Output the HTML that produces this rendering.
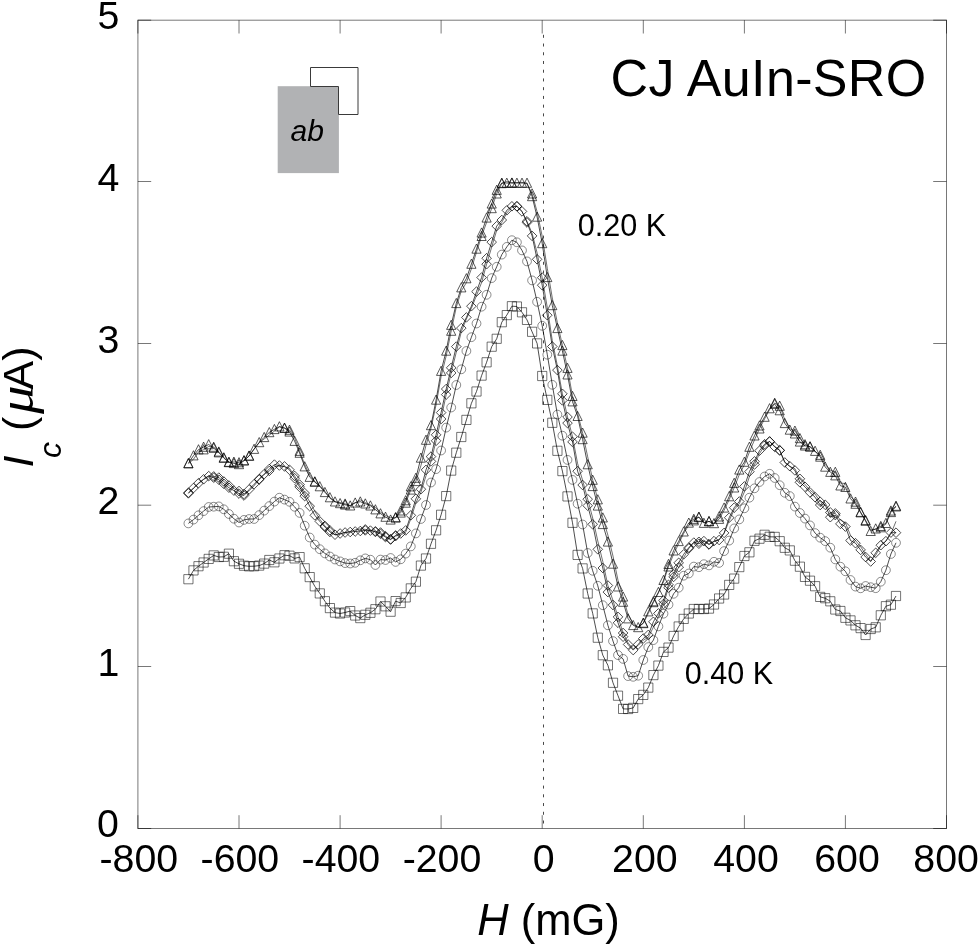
<!DOCTYPE html>
<html lang="en"><head><meta charset="utf-8"><title>CJ AuIn-SRO</title>
<style>
html,body{margin:0;padding:0;background:#fff}
body{width:979px;height:947px;overflow:hidden}
svg{display:block}
text{font-family:"Liberation Sans",sans-serif;fill:#000}
.i{font-style:italic}
</style></head>
<body>
<svg width="979" height="947" viewBox="0 0 979 947">
<rect width="979" height="947" fill="#fff"/>
<g fill="none" stroke="#000" stroke-opacity="0.53" stroke-width="1">
<rect x="137.9" y="20.2" width="808.6" height="808.3"/>
<path d="M137.9 20.2v13.3M137.9 828.5v-13.3M239 20.2v13.3M239 828.5v-13.3M340.1 20.2v13.3M340.1 828.5v-13.3M441.1 20.2v13.3M441.1 828.5v-13.3M542.2 20.2v13.3M542.2 828.5v-13.3M643.3 20.2v13.3M643.3 828.5v-13.3M744.4 20.2v13.3M744.4 828.5v-13.3M845.4 20.2v13.3M845.4 828.5v-13.3M946.5 20.2v13.3M946.5 828.5v-13.3M137.9 828.5h13.3M946.5 828.5h-13.3M137.9 666.5h13.3M946.5 666.5h-13.3M137.9 505.2h13.3M946.5 505.2h-13.3M137.9 343.5h13.3M946.5 343.5h-13.3M137.9 181.5h13.3M946.5 181.5h-13.3M137.9 20.2h13.3M946.5 20.2h-13.3"/>
</g>
<path d="M543.5 34.8V828.5" fill="none" stroke="#333" stroke-width="0.9" stroke-dasharray="3 5.73"/>
<g font-size="39.3" text-anchor="middle">
<text x="138.8" y="872">-800</text>
<text x="239.9" y="872">-600</text>
<text x="340.9" y="872">-400</text>
<text x="442" y="872">-200</text>
<text x="543.8" y="872">0</text>
<text x="644.9" y="872">200</text>
<text x="746" y="872">400</text>
<text x="847" y="872">600</text>
<text x="946.1" y="872">800</text>
</g>
<g font-size="39.3" text-anchor="end">
<text x="118.9" y="836.7">0</text>
<text x="119.4" y="675.5">1</text>
<text x="119.4" y="514.2">2</text>
<text x="119.4" y="352.5">3</text>
<text x="119.4" y="190.5">4</text>
<text x="119.4" y="29.2">5</text>
</g>
<text x="477.2" y="935" font-size="43.5"><tspan class="i">H</tspan> (mG)</text>
<g transform="translate(33 467.5) rotate(-90)" font-size="43"><text x="0" y="0" class="i">I</text><text x="9.5" y="27.5" font-size="32" class="i">c</text><text x="36.5" y="0">(</text><text transform="translate(53.5 0) scale(1.14 1)" class="i" font-size="50" style="font-family:'Liberation Serif',serif">μ</text><text x="78" y="0">A</text><text x="106.8" y="0">)</text></g>
<text x="610.6" y="96.2" font-size="52" letter-spacing="0.35">CJ AuIn-SRO</text>
<text x="577.8" y="236" font-size="30.6">0.20 K</text>
<text x="684.8" y="684" font-size="30.6">0.40 K</text>
<rect x="277.7" y="86.2" width="61.2" height="86.9" fill="#b1b2b4"/>
<path d="M310.5 86.5V67.5H358V114.5H338.5V86.5Z" fill="#fff" stroke="#3a3a3a" stroke-width="1"/>
<text x="290.5" y="141" font-size="30" class="i">ab</text>
<g fill="none" stroke="#000" stroke-width="0.55">
<polyline fill="none" stroke="#000" stroke-width="0.7" stroke-linejoin="round" points="188.4,579.2 193.5,570.4 198.5,566.2 203.6,562.5 208.7,558.9 213.7,555.4 218.8,557 223.8,556.8 228.9,553.7 233.9,561.2 239,563.8 244,565.7 249.1,566.3 254.1,566.2 259.2,565.6 264.2,563.6 269.3,560 274.4,562.3 279.4,558.5 284.5,555.2 289.5,555.7 294.6,558.4 299.6,557.1 304.7,568.3 309.7,577.1 314.8,586.3 319.8,593.4 324.9,601.2 329.9,608.1 335,612.6 340.1,613.5 345.1,612.5 350.2,611.1 355.2,615.5 360.3,618.1 365.3,614.8 370.4,612.8 375.4,609.2 380.5,601.5 385.5,606.3 390.6,611.7 395.6,601.1 400.7,603 405.7,597.4 410.8,588.4 415.9,581.7 420.9,565.6 426,558.5 431,543.8 436.1,530.3 441.1,514.8 446.2,496.1 451.2,470.6 456.3,452.7 461.3,437 466.4,419.9 471.4,403.3 476.5,391.5 481.6,375.6 486.6,362.3 491.7,346.7 496.7,338.8 501.8,322.2 506.8,315.1 511.9,306.2 516.9,306.5 522,312.3 527,319.9 532.1,331.8 537.1,343.4 542.2,376 547.3,399.9 552.3,422.8 557.4,450.8 562.4,471.1 567.5,496.4 572.5,522.8 577.6,554.9 582.6,568.4 587.7,593.5 592.7,613.4 597.8,637.7 602.8,655.2 607.9,665.3 613,682.8 618,695.7 623.1,708.9 628.1,709 633.2,707.9 638.2,699.1 643.3,694.9 648.3,687.6 653.4,675.1 658.4,665.6 663.5,651.9 668.5,647.6 673.6,636 678.7,626.5 683.7,618.9 688.8,613.5 693.8,609 698.9,609 703.9,609 709,608.6 714,604.5 719.1,598.5 724.1,594.5 729.2,584.9 734.2,578.6 739.3,567.1 744.4,556 749.4,552.3 754.5,540.8 759.5,538.7 764.6,534.8 769.6,536.8 774.7,536.9 779.7,541.2 784.8,547.8 789.8,550.4 794.9,560.7 799.9,566.7 805,576.9 810,580.7 815.1,586.2 820.2,596.9 825.2,598.2 830.3,601.3 835.3,609.5 840.4,611 845.4,617.8 850.5,620.4 855.5,625.3 860.6,628.1 865.6,635 870.7,629 875.7,627.3 880.8,615.3 885.9,606.2 890.9,604.7 896,596"/>
<path d="M183.8 574.6h9.2v9.2h-9.2zM188.9 565.8h9.2v9.2h-9.2zM193.9 561.6h9.2v9.2h-9.2zM199 557.9h9.2v9.2h-9.2zM204.1 554.3h9.2v9.2h-9.2zM209.1 550.8h9.2v9.2h-9.2zM214.2 552.4h9.2v9.2h-9.2zM219.2 552.2h9.2v9.2h-9.2zM224.3 549.1h9.2v9.2h-9.2zM229.3 556.6h9.2v9.2h-9.2zM234.4 559.2h9.2v9.2h-9.2zM239.4 561.1h9.2v9.2h-9.2zM244.5 561.7h9.2v9.2h-9.2zM249.5 561.6h9.2v9.2h-9.2zM254.6 561h9.2v9.2h-9.2zM259.6 559h9.2v9.2h-9.2zM264.7 555.4h9.2v9.2h-9.2zM269.8 557.7h9.2v9.2h-9.2zM274.8 553.9h9.2v9.2h-9.2zM279.9 550.6h9.2v9.2h-9.2zM284.9 551.1h9.2v9.2h-9.2zM290 553.8h9.2v9.2h-9.2zM295 552.5h9.2v9.2h-9.2zM300.1 563.7h9.2v9.2h-9.2zM305.1 572.5h9.2v9.2h-9.2zM310.2 581.7h9.2v9.2h-9.2zM315.2 588.8h9.2v9.2h-9.2zM320.3 596.6h9.2v9.2h-9.2zM325.3 603.5h9.2v9.2h-9.2zM330.4 608h9.2v9.2h-9.2zM335.4 608.9h9.2v9.2h-9.2zM340.5 607.9h9.2v9.2h-9.2zM345.6 606.5h9.2v9.2h-9.2zM350.6 610.9h9.2v9.2h-9.2zM355.7 613.5h9.2v9.2h-9.2zM360.7 610.2h9.2v9.2h-9.2zM365.8 608.2h9.2v9.2h-9.2zM370.8 604.6h9.2v9.2h-9.2zM375.9 596.9h9.2v9.2h-9.2zM380.9 601.7h9.2v9.2h-9.2zM386 607.1h9.2v9.2h-9.2zM391 596.5h9.2v9.2h-9.2zM396.1 598.4h9.2v9.2h-9.2zM401.1 592.8h9.2v9.2h-9.2zM406.2 583.8h9.2v9.2h-9.2zM411.3 577.1h9.2v9.2h-9.2zM416.3 561h9.2v9.2h-9.2zM421.4 553.9h9.2v9.2h-9.2zM426.4 539.2h9.2v9.2h-9.2zM431.5 525.7h9.2v9.2h-9.2zM436.5 510.2h9.2v9.2h-9.2zM441.6 491.5h9.2v9.2h-9.2zM446.6 466h9.2v9.2h-9.2zM451.7 448.1h9.2v9.2h-9.2zM456.7 432.4h9.2v9.2h-9.2zM461.8 415.3h9.2v9.2h-9.2zM466.8 398.7h9.2v9.2h-9.2zM471.9 386.9h9.2v9.2h-9.2zM477 371h9.2v9.2h-9.2zM482 357.7h9.2v9.2h-9.2zM487.1 342.1h9.2v9.2h-9.2zM492.1 334.2h9.2v9.2h-9.2zM497.2 317.6h9.2v9.2h-9.2zM502.2 310.5h9.2v9.2h-9.2zM507.3 301.6h9.2v9.2h-9.2zM512.3 301.9h9.2v9.2h-9.2zM517.4 307.7h9.2v9.2h-9.2zM522.4 315.3h9.2v9.2h-9.2zM527.5 327.2h9.2v9.2h-9.2zM532.5 338.8h9.2v9.2h-9.2zM537.6 371.4h9.2v9.2h-9.2zM542.7 395.3h9.2v9.2h-9.2zM547.7 418.2h9.2v9.2h-9.2zM552.8 446.2h9.2v9.2h-9.2zM557.8 466.5h9.2v9.2h-9.2zM562.9 491.8h9.2v9.2h-9.2zM567.9 518.2h9.2v9.2h-9.2zM573 550.3h9.2v9.2h-9.2zM578 563.8h9.2v9.2h-9.2zM583.1 588.9h9.2v9.2h-9.2zM588.1 608.8h9.2v9.2h-9.2zM593.2 633.1h9.2v9.2h-9.2zM598.2 650.6h9.2v9.2h-9.2zM603.3 660.7h9.2v9.2h-9.2zM608.4 678.2h9.2v9.2h-9.2zM613.4 691.1h9.2v9.2h-9.2zM618.5 704.3h9.2v9.2h-9.2zM623.5 704.4h9.2v9.2h-9.2zM628.6 703.3h9.2v9.2h-9.2zM633.6 694.5h9.2v9.2h-9.2zM638.7 690.3h9.2v9.2h-9.2zM643.7 683h9.2v9.2h-9.2zM648.8 670.5h9.2v9.2h-9.2zM653.8 661h9.2v9.2h-9.2zM658.9 647.3h9.2v9.2h-9.2zM663.9 643h9.2v9.2h-9.2zM669 631.4h9.2v9.2h-9.2zM674.1 621.9h9.2v9.2h-9.2zM679.1 614.3h9.2v9.2h-9.2zM684.2 608.9h9.2v9.2h-9.2zM689.2 604.4h9.2v9.2h-9.2zM694.3 604.4h9.2v9.2h-9.2zM699.3 604.4h9.2v9.2h-9.2zM704.4 604h9.2v9.2h-9.2zM709.4 599.9h9.2v9.2h-9.2zM714.5 593.9h9.2v9.2h-9.2zM719.5 589.9h9.2v9.2h-9.2zM724.6 580.3h9.2v9.2h-9.2zM729.6 574h9.2v9.2h-9.2zM734.7 562.5h9.2v9.2h-9.2zM739.8 551.4h9.2v9.2h-9.2zM744.8 547.7h9.2v9.2h-9.2zM749.9 536.2h9.2v9.2h-9.2zM754.9 534.1h9.2v9.2h-9.2zM760 530.2h9.2v9.2h-9.2zM765 532.2h9.2v9.2h-9.2zM770.1 532.3h9.2v9.2h-9.2zM775.1 536.6h9.2v9.2h-9.2zM780.2 543.2h9.2v9.2h-9.2zM785.2 545.8h9.2v9.2h-9.2zM790.3 556.1h9.2v9.2h-9.2zM795.3 562.1h9.2v9.2h-9.2zM800.4 572.3h9.2v9.2h-9.2zM805.4 576.1h9.2v9.2h-9.2zM810.5 581.6h9.2v9.2h-9.2zM815.6 592.3h9.2v9.2h-9.2zM820.6 593.6h9.2v9.2h-9.2zM825.7 596.7h9.2v9.2h-9.2zM830.7 604.9h9.2v9.2h-9.2zM835.8 606.4h9.2v9.2h-9.2zM840.8 613.2h9.2v9.2h-9.2zM845.9 615.8h9.2v9.2h-9.2zM850.9 620.7h9.2v9.2h-9.2zM856 623.5h9.2v9.2h-9.2zM861 630.4h9.2v9.2h-9.2zM866.1 624.4h9.2v9.2h-9.2zM871.1 622.7h9.2v9.2h-9.2zM876.2 610.7h9.2v9.2h-9.2zM881.3 601.6h9.2v9.2h-9.2zM886.3 600.1h9.2v9.2h-9.2zM891.4 591.4h9.2v9.2h-9.2z"/>
</g>
<g fill="none" stroke="#000" stroke-width="0.45">
<polyline fill="none" stroke="#000" stroke-width="0.7" stroke-linejoin="round" points="188.4,523.4 193.5,519.6 198.5,515.3 203.6,511.1 208.7,507 213.7,506.7 218.8,506.4 223.8,509.3 228.9,514 233.9,518.7 239,522.5 244,519.9 249.1,519 254.1,519 259.2,515.1 264.2,510.6 269.3,506.1 274.4,501.6 279.4,497.7 284.5,499.6 289.5,501.8 294.6,506.8 299.6,512.9 304.7,525.7 309.7,537.5 314.8,544.6 319.8,549.2 324.9,553.4 329.9,556.5 335,559.5 340.1,561.4 345.1,563.1 350.2,563.5 355.2,562.8 360.3,560.3 365.3,558.4 370.4,559.7 375.4,565 380.5,559.6 385.5,560 390.6,558 395.6,561.9 400.7,559.3 405.7,553.6 410.8,546.4 415.9,533.4 420.9,519 426,505 431,482.5 436.1,469.1 441.1,450.5 446.2,427.6 451.2,407.5 456.3,385 461.3,369.3 466.4,351 471.4,337.2 476.5,323.5 481.6,306.7 486.6,294.8 491.7,278.1 496.7,266.8 501.8,254.6 506.8,246.9 511.9,240.2 516.9,242.3 522,250.4 527,261.4 532.1,280.4 537.1,301.8 542.2,325.8 547.3,354.7 552.3,384.8 557.4,414.6 562.4,435.7 567.5,459.9 572.5,479.9 577.6,503.7 582.6,524.5 587.7,553 592.7,570.8 597.8,585.8 602.8,605.2 607.9,625.3 613,641.1 618,655.1 623.1,658.9 628.1,676.1 633.2,676.8 638.2,675.7 643.3,660 648.3,647.1 653.4,640.1 658.4,626.4 663.5,613.7 668.5,604.6 673.6,593.8 678.7,587.7 683.7,575.7 688.8,573.5 693.8,566.6 698.9,567.2 703.9,564.2 709,565.4 714,561.8 719.1,562.9 724.1,551.1 729.2,540.6 734.2,528.4 739.3,519.4 744.4,508.3 749.4,497.7 754.5,488.3 759.5,482 764.6,476.5 769.6,473.8 774.7,478 779.7,485.2 784.8,492.8 789.8,496.1 794.9,506.6 799.9,513 805,518.6 810,525.4 815.1,533.1 820.2,537.7 825.2,541.1 830.3,547.7 835.3,559.4 840.4,566.7 845.4,571.3 850.5,580 855.5,586.6 860.6,588.3 865.6,586 870.7,587.2 875.7,588.2 880.8,581.7 885.9,570.2 890.9,554 896,542.8"/>
<circle cx="188.4" cy="523.4" r="4.4"/>
<circle cx="193.5" cy="519.6" r="4.4"/>
<circle cx="198.5" cy="515.3" r="4.4"/>
<circle cx="203.6" cy="511.1" r="4.4"/>
<circle cx="208.7" cy="507" r="4.4"/>
<circle cx="213.7" cy="506.7" r="4.4"/>
<circle cx="218.8" cy="506.4" r="4.4"/>
<circle cx="223.8" cy="509.3" r="4.4"/>
<circle cx="228.9" cy="514" r="4.4"/>
<circle cx="233.9" cy="518.7" r="4.4"/>
<circle cx="239" cy="522.5" r="4.4"/>
<circle cx="244" cy="519.9" r="4.4"/>
<circle cx="249.1" cy="519" r="4.4"/>
<circle cx="254.1" cy="519" r="4.4"/>
<circle cx="259.2" cy="515.1" r="4.4"/>
<circle cx="264.2" cy="510.6" r="4.4"/>
<circle cx="269.3" cy="506.1" r="4.4"/>
<circle cx="274.4" cy="501.6" r="4.4"/>
<circle cx="279.4" cy="497.7" r="4.4"/>
<circle cx="284.5" cy="499.6" r="4.4"/>
<circle cx="289.5" cy="501.8" r="4.4"/>
<circle cx="294.6" cy="506.8" r="4.4"/>
<circle cx="299.6" cy="512.9" r="4.4"/>
<circle cx="304.7" cy="525.7" r="4.4"/>
<circle cx="309.7" cy="537.5" r="4.4"/>
<circle cx="314.8" cy="544.6" r="4.4"/>
<circle cx="319.8" cy="549.2" r="4.4"/>
<circle cx="324.9" cy="553.4" r="4.4"/>
<circle cx="329.9" cy="556.5" r="4.4"/>
<circle cx="335" cy="559.5" r="4.4"/>
<circle cx="340.1" cy="561.4" r="4.4"/>
<circle cx="345.1" cy="563.1" r="4.4"/>
<circle cx="350.2" cy="563.5" r="4.4"/>
<circle cx="355.2" cy="562.8" r="4.4"/>
<circle cx="360.3" cy="560.3" r="4.4"/>
<circle cx="365.3" cy="558.4" r="4.4"/>
<circle cx="370.4" cy="559.7" r="4.4"/>
<circle cx="375.4" cy="565" r="4.4"/>
<circle cx="380.5" cy="559.6" r="4.4"/>
<circle cx="385.5" cy="560" r="4.4"/>
<circle cx="390.6" cy="558" r="4.4"/>
<circle cx="395.6" cy="561.9" r="4.4"/>
<circle cx="400.7" cy="559.3" r="4.4"/>
<circle cx="405.7" cy="553.6" r="4.4"/>
<circle cx="410.8" cy="546.4" r="4.4"/>
<circle cx="415.9" cy="533.4" r="4.4"/>
<circle cx="420.9" cy="519" r="4.4"/>
<circle cx="426" cy="505" r="4.4"/>
<circle cx="431" cy="482.5" r="4.4"/>
<circle cx="436.1" cy="469.1" r="4.4"/>
<circle cx="441.1" cy="450.5" r="4.4"/>
<circle cx="446.2" cy="427.6" r="4.4"/>
<circle cx="451.2" cy="407.5" r="4.4"/>
<circle cx="456.3" cy="385" r="4.4"/>
<circle cx="461.3" cy="369.3" r="4.4"/>
<circle cx="466.4" cy="351" r="4.4"/>
<circle cx="471.4" cy="337.2" r="4.4"/>
<circle cx="476.5" cy="323.5" r="4.4"/>
<circle cx="481.6" cy="306.7" r="4.4"/>
<circle cx="486.6" cy="294.8" r="4.4"/>
<circle cx="491.7" cy="278.1" r="4.4"/>
<circle cx="496.7" cy="266.8" r="4.4"/>
<circle cx="501.8" cy="254.6" r="4.4"/>
<circle cx="506.8" cy="246.9" r="4.4"/>
<circle cx="511.9" cy="240.2" r="4.4"/>
<circle cx="516.9" cy="242.3" r="4.4"/>
<circle cx="522" cy="250.4" r="4.4"/>
<circle cx="527" cy="261.4" r="4.4"/>
<circle cx="532.1" cy="280.4" r="4.4"/>
<circle cx="537.1" cy="301.8" r="4.4"/>
<circle cx="542.2" cy="325.8" r="4.4"/>
<circle cx="547.3" cy="354.7" r="4.4"/>
<circle cx="552.3" cy="384.8" r="4.4"/>
<circle cx="557.4" cy="414.6" r="4.4"/>
<circle cx="562.4" cy="435.7" r="4.4"/>
<circle cx="567.5" cy="459.9" r="4.4"/>
<circle cx="572.5" cy="479.9" r="4.4"/>
<circle cx="577.6" cy="503.7" r="4.4"/>
<circle cx="582.6" cy="524.5" r="4.4"/>
<circle cx="587.7" cy="553" r="4.4"/>
<circle cx="592.7" cy="570.8" r="4.4"/>
<circle cx="597.8" cy="585.8" r="4.4"/>
<circle cx="602.8" cy="605.2" r="4.4"/>
<circle cx="607.9" cy="625.3" r="4.4"/>
<circle cx="613" cy="641.1" r="4.4"/>
<circle cx="618" cy="655.1" r="4.4"/>
<circle cx="623.1" cy="658.9" r="4.4"/>
<circle cx="628.1" cy="676.1" r="4.4"/>
<circle cx="633.2" cy="676.8" r="4.4"/>
<circle cx="638.2" cy="675.7" r="4.4"/>
<circle cx="643.3" cy="660" r="4.4"/>
<circle cx="648.3" cy="647.1" r="4.4"/>
<circle cx="653.4" cy="640.1" r="4.4"/>
<circle cx="658.4" cy="626.4" r="4.4"/>
<circle cx="663.5" cy="613.7" r="4.4"/>
<circle cx="668.5" cy="604.6" r="4.4"/>
<circle cx="673.6" cy="593.8" r="4.4"/>
<circle cx="678.7" cy="587.7" r="4.4"/>
<circle cx="683.7" cy="575.7" r="4.4"/>
<circle cx="688.8" cy="573.5" r="4.4"/>
<circle cx="693.8" cy="566.6" r="4.4"/>
<circle cx="698.9" cy="567.2" r="4.4"/>
<circle cx="703.9" cy="564.2" r="4.4"/>
<circle cx="709" cy="565.4" r="4.4"/>
<circle cx="714" cy="561.8" r="4.4"/>
<circle cx="719.1" cy="562.9" r="4.4"/>
<circle cx="724.1" cy="551.1" r="4.4"/>
<circle cx="729.2" cy="540.6" r="4.4"/>
<circle cx="734.2" cy="528.4" r="4.4"/>
<circle cx="739.3" cy="519.4" r="4.4"/>
<circle cx="744.4" cy="508.3" r="4.4"/>
<circle cx="749.4" cy="497.7" r="4.4"/>
<circle cx="754.5" cy="488.3" r="4.4"/>
<circle cx="759.5" cy="482" r="4.4"/>
<circle cx="764.6" cy="476.5" r="4.4"/>
<circle cx="769.6" cy="473.8" r="4.4"/>
<circle cx="774.7" cy="478" r="4.4"/>
<circle cx="779.7" cy="485.2" r="4.4"/>
<circle cx="784.8" cy="492.8" r="4.4"/>
<circle cx="789.8" cy="496.1" r="4.4"/>
<circle cx="794.9" cy="506.6" r="4.4"/>
<circle cx="799.9" cy="513" r="4.4"/>
<circle cx="805" cy="518.6" r="4.4"/>
<circle cx="810" cy="525.4" r="4.4"/>
<circle cx="815.1" cy="533.1" r="4.4"/>
<circle cx="820.2" cy="537.7" r="4.4"/>
<circle cx="825.2" cy="541.1" r="4.4"/>
<circle cx="830.3" cy="547.7" r="4.4"/>
<circle cx="835.3" cy="559.4" r="4.4"/>
<circle cx="840.4" cy="566.7" r="4.4"/>
<circle cx="845.4" cy="571.3" r="4.4"/>
<circle cx="850.5" cy="580" r="4.4"/>
<circle cx="855.5" cy="586.6" r="4.4"/>
<circle cx="860.6" cy="588.3" r="4.4"/>
<circle cx="865.6" cy="586" r="4.4"/>
<circle cx="870.7" cy="587.2" r="4.4"/>
<circle cx="875.7" cy="588.2" r="4.4"/>
<circle cx="880.8" cy="581.7" r="4.4"/>
<circle cx="885.9" cy="570.2" r="4.4"/>
<circle cx="890.9" cy="554" r="4.4"/>
<circle cx="896" cy="542.8" r="4.4"/>
</g>
<g fill="none" stroke="#000" stroke-width="0.7">
<polyline fill="none" stroke="#000" stroke-width="0.7" stroke-linejoin="round" points="188.4,493.4 193.5,488 198.5,483.2 203.6,479.3 208.7,476.1 213.7,477.7 218.8,479.7 223.8,483.8 228.9,487.7 233.9,490.6 239,493.6 244,495.5 249.1,489.5 254.1,484.2 259.2,479.1 264.2,474.1 269.3,469 274.4,464.6 279.4,465.5 284.5,466.4 289.5,469.8 294.6,478.2 299.6,486.9 304.7,496.1 309.7,506.2 314.8,515.3 319.8,521.4 324.9,527 329.9,532 335,534.7 340.1,533.5 345.1,532.5 350.2,532 355.2,531.5 360.3,531 365.3,530.4 370.4,530.6 375.4,531.9 380.5,533.8 385.5,537.1 390.6,539.6 395.6,535.4 400.7,533.5 405.7,530.4 410.8,515.3 415.9,498.8 420.9,489.2 426,469.9 431,456.6 436.1,434.8 441.1,412.6 446.2,389 451.2,367.8 456.3,346.6 461.3,328.1 466.4,317.4 471.4,306.2 476.5,291.6 481.6,277.5 486.6,258.2 491.7,242.1 496.7,226.1 501.8,220 506.8,210.3 511.9,206.3 516.9,206.3 522,211.4 527,222.5 532.1,235.9 537.1,259.3 542.2,285.2 547.3,315.2 552.3,346.5 557.4,370.1 562.4,400.4 567.5,423.1 572.5,441.9 577.6,471.2 582.6,485 587.7,505.7 592.7,524.3 597.8,549.3 602.8,568 607.9,592.1 613,605 618,622.8 623.1,636.7 628.1,644.5 633.2,650.1 638.2,644.4 643.3,638.5 648.3,634.9 653.4,621.8 658.4,613.4 663.5,600.5 668.5,584.8 673.6,574.1 678.7,562.8 683.7,554.3 688.8,547.6 693.8,542.6 698.9,543.7 703.9,541.1 709,544.6 714,541.1 719.1,540 724.1,532.9 729.2,517.7 734.2,507.7 739.3,501.5 744.4,486.4 749.4,471.7 754.5,461.4 759.5,450.7 764.6,444.2 769.6,441.4 774.7,446.9 779.7,450.3 784.8,462.5 789.8,466.2 794.9,470.4 799.9,482.3 805,486.8 810,492.4 815.1,497.2 820.2,505 825.2,504.8 830.3,517.2 835.3,515.1 840.4,523.9 845.4,526.6 850.5,540.5 855.5,543.2 860.6,549.9 865.6,557 870.7,561.5 875.7,552.8 880.8,545.2 885.9,541.2 890.9,532.6 896,532.7"/>
<polyline fill="none" stroke="#000" stroke-width="0.5599999999999999" stroke-linejoin="round" points="188.4,492.7 193.5,488.4 198.5,483.6 203.6,479.4 208.7,475.7 213.7,476.4 218.8,477.6 223.8,481.5 228.9,485.5 233.9,488.5 239,491 244,494 249.1,490.8 254.1,485.7 259.2,479.5 264.2,474.3 269.3,470.9 274.4,466.7 279.4,466 284.5,466.7 289.5,468.3 294.6,475.9 299.6,484.6 304.7,493.1 309.7,501.8 314.8,511.2 319.8,519.3 324.9,525.9 329.9,530.4 335,535 340.1,534.1 345.1,532.5 350.2,531.5 355.2,529.9 360.3,528.9 365.3,529.4 370.4,530.2 375.4,531.3 380.5,532.5 385.5,536.2 390.6,539.2 395.6,536.1 400.7,534.8 405.7,532.2 410.8,518.9 415.9,502.9 420.9,492.3 426,475.8 431,461.4 436.1,440.8 441.1,419 446.2,394.6 451.2,372.9 456.3,352.1 461.3,331.7 466.4,319 471.4,308.3 476.5,295.5 481.6,282.5 486.6,264.2 491.7,247.1 496.7,230.3 501.8,222.3 506.8,213 511.9,207.3 516.9,206.3 522,211.6 527,221.3 532.1,233.2 537.1,252.9 542.2,277.7 547.3,307.6 552.3,340.6 557.4,366 562.4,393.8 567.5,417 572.5,436.7 577.6,463.5 582.6,480.3 587.7,499.2 592.7,518 597.8,541 602.8,561.6 607.9,585.5 613,600.6 618,616.9 623.1,633 628.1,642.9 633.2,649 638.2,645.4 643.3,640.1 648.3,637.4 653.4,627.1 658.4,616.8 663.5,604 668.5,587.6 673.6,576.9 678.7,567.2 683.7,557.6 688.8,548.5 693.8,542.1 698.9,541.8 703.9,540 709,544.1 714,541.7 719.1,539.5 724.1,533.5 729.2,520.6 734.2,509.7 739.3,503.7 744.4,491.9 749.4,476.6 754.5,464.5 759.5,453.6 764.6,445.5 769.6,441.6 774.7,446.3 779.7,450.4 784.8,461.9 789.8,466.5 794.9,468.6 799.9,478.8 805,484.5 810,490.3 815.1,494.1 820.2,501.8 825.2,503 830.3,512.4 835.3,513.4 840.4,520.1 845.4,522.7 850.5,535.4 855.5,540.6 860.6,546.6 865.6,554.3 870.7,561.2 875.7,555.3 880.8,545.9 885.9,541 890.9,533.8 896,521.3"/>
<path d="M188.4 488.6l4.8 4.8l-4.8 4.8l-4.8 -4.8zM193.5 483.2l4.8 4.8l-4.8 4.8l-4.8 -4.8zM198.5 478.4l4.8 4.8l-4.8 4.8l-4.8 -4.8zM203.6 474.5l4.8 4.8l-4.8 4.8l-4.8 -4.8zM208.7 471.3l4.8 4.8l-4.8 4.8l-4.8 -4.8zM213.7 472.9l4.8 4.8l-4.8 4.8l-4.8 -4.8zM218.8 474.9l4.8 4.8l-4.8 4.8l-4.8 -4.8zM223.8 479l4.8 4.8l-4.8 4.8l-4.8 -4.8zM228.9 482.9l4.8 4.8l-4.8 4.8l-4.8 -4.8zM233.9 485.8l4.8 4.8l-4.8 4.8l-4.8 -4.8zM239 488.8l4.8 4.8l-4.8 4.8l-4.8 -4.8zM244 490.7l4.8 4.8l-4.8 4.8l-4.8 -4.8zM249.1 484.7l4.8 4.8l-4.8 4.8l-4.8 -4.8zM254.1 479.4l4.8 4.8l-4.8 4.8l-4.8 -4.8zM259.2 474.3l4.8 4.8l-4.8 4.8l-4.8 -4.8zM264.2 469.3l4.8 4.8l-4.8 4.8l-4.8 -4.8zM269.3 464.2l4.8 4.8l-4.8 4.8l-4.8 -4.8zM274.4 459.8l4.8 4.8l-4.8 4.8l-4.8 -4.8zM279.4 460.7l4.8 4.8l-4.8 4.8l-4.8 -4.8zM284.5 461.6l4.8 4.8l-4.8 4.8l-4.8 -4.8zM289.5 465l4.8 4.8l-4.8 4.8l-4.8 -4.8zM294.6 473.4l4.8 4.8l-4.8 4.8l-4.8 -4.8zM299.6 482.1l4.8 4.8l-4.8 4.8l-4.8 -4.8zM304.7 491.3l4.8 4.8l-4.8 4.8l-4.8 -4.8zM309.7 501.4l4.8 4.8l-4.8 4.8l-4.8 -4.8zM314.8 510.5l4.8 4.8l-4.8 4.8l-4.8 -4.8zM319.8 516.6l4.8 4.8l-4.8 4.8l-4.8 -4.8zM324.9 522.2l4.8 4.8l-4.8 4.8l-4.8 -4.8zM329.9 527.2l4.8 4.8l-4.8 4.8l-4.8 -4.8zM335 529.9l4.8 4.8l-4.8 4.8l-4.8 -4.8zM340.1 528.7l4.8 4.8l-4.8 4.8l-4.8 -4.8zM345.1 527.7l4.8 4.8l-4.8 4.8l-4.8 -4.8zM350.2 527.2l4.8 4.8l-4.8 4.8l-4.8 -4.8zM355.2 526.7l4.8 4.8l-4.8 4.8l-4.8 -4.8zM360.3 526.2l4.8 4.8l-4.8 4.8l-4.8 -4.8zM365.3 525.6l4.8 4.8l-4.8 4.8l-4.8 -4.8zM370.4 525.8l4.8 4.8l-4.8 4.8l-4.8 -4.8zM375.4 527.1l4.8 4.8l-4.8 4.8l-4.8 -4.8zM380.5 529l4.8 4.8l-4.8 4.8l-4.8 -4.8zM385.5 532.3l4.8 4.8l-4.8 4.8l-4.8 -4.8zM390.6 534.8l4.8 4.8l-4.8 4.8l-4.8 -4.8zM395.6 530.6l4.8 4.8l-4.8 4.8l-4.8 -4.8zM400.7 528.7l4.8 4.8l-4.8 4.8l-4.8 -4.8zM405.7 525.6l4.8 4.8l-4.8 4.8l-4.8 -4.8zM410.8 510.5l4.8 4.8l-4.8 4.8l-4.8 -4.8zM415.9 494l4.8 4.8l-4.8 4.8l-4.8 -4.8zM420.9 484.4l4.8 4.8l-4.8 4.8l-4.8 -4.8zM426 465.1l4.8 4.8l-4.8 4.8l-4.8 -4.8zM431 451.8l4.8 4.8l-4.8 4.8l-4.8 -4.8zM436.1 430l4.8 4.8l-4.8 4.8l-4.8 -4.8zM441.1 407.8l4.8 4.8l-4.8 4.8l-4.8 -4.8zM446.2 384.2l4.8 4.8l-4.8 4.8l-4.8 -4.8zM451.2 363l4.8 4.8l-4.8 4.8l-4.8 -4.8zM456.3 341.8l4.8 4.8l-4.8 4.8l-4.8 -4.8zM461.3 323.3l4.8 4.8l-4.8 4.8l-4.8 -4.8zM466.4 312.6l4.8 4.8l-4.8 4.8l-4.8 -4.8zM471.4 301.4l4.8 4.8l-4.8 4.8l-4.8 -4.8zM476.5 286.8l4.8 4.8l-4.8 4.8l-4.8 -4.8zM481.6 272.7l4.8 4.8l-4.8 4.8l-4.8 -4.8zM486.6 253.4l4.8 4.8l-4.8 4.8l-4.8 -4.8zM491.7 237.3l4.8 4.8l-4.8 4.8l-4.8 -4.8zM496.7 221.3l4.8 4.8l-4.8 4.8l-4.8 -4.8zM501.8 215.2l4.8 4.8l-4.8 4.8l-4.8 -4.8zM506.8 205.5l4.8 4.8l-4.8 4.8l-4.8 -4.8zM511.9 201.5l4.8 4.8l-4.8 4.8l-4.8 -4.8zM516.9 201.5l4.8 4.8l-4.8 4.8l-4.8 -4.8zM522 206.6l4.8 4.8l-4.8 4.8l-4.8 -4.8zM527 217.7l4.8 4.8l-4.8 4.8l-4.8 -4.8zM532.1 231.1l4.8 4.8l-4.8 4.8l-4.8 -4.8zM537.1 254.5l4.8 4.8l-4.8 4.8l-4.8 -4.8zM542.2 280.4l4.8 4.8l-4.8 4.8l-4.8 -4.8zM547.3 310.4l4.8 4.8l-4.8 4.8l-4.8 -4.8zM552.3 341.7l4.8 4.8l-4.8 4.8l-4.8 -4.8zM557.4 365.3l4.8 4.8l-4.8 4.8l-4.8 -4.8zM562.4 395.6l4.8 4.8l-4.8 4.8l-4.8 -4.8zM567.5 418.3l4.8 4.8l-4.8 4.8l-4.8 -4.8zM572.5 437.1l4.8 4.8l-4.8 4.8l-4.8 -4.8zM577.6 466.4l4.8 4.8l-4.8 4.8l-4.8 -4.8zM582.6 480.2l4.8 4.8l-4.8 4.8l-4.8 -4.8zM587.7 500.9l4.8 4.8l-4.8 4.8l-4.8 -4.8zM592.7 519.5l4.8 4.8l-4.8 4.8l-4.8 -4.8zM597.8 544.5l4.8 4.8l-4.8 4.8l-4.8 -4.8zM602.8 563.2l4.8 4.8l-4.8 4.8l-4.8 -4.8zM607.9 587.3l4.8 4.8l-4.8 4.8l-4.8 -4.8zM613 600.2l4.8 4.8l-4.8 4.8l-4.8 -4.8zM618 618l4.8 4.8l-4.8 4.8l-4.8 -4.8zM623.1 631.9l4.8 4.8l-4.8 4.8l-4.8 -4.8zM628.1 639.7l4.8 4.8l-4.8 4.8l-4.8 -4.8zM633.2 645.3l4.8 4.8l-4.8 4.8l-4.8 -4.8zM638.2 639.6l4.8 4.8l-4.8 4.8l-4.8 -4.8zM643.3 633.7l4.8 4.8l-4.8 4.8l-4.8 -4.8zM648.3 630.1l4.8 4.8l-4.8 4.8l-4.8 -4.8zM653.4 617l4.8 4.8l-4.8 4.8l-4.8 -4.8zM658.4 608.6l4.8 4.8l-4.8 4.8l-4.8 -4.8zM663.5 595.7l4.8 4.8l-4.8 4.8l-4.8 -4.8zM668.5 580l4.8 4.8l-4.8 4.8l-4.8 -4.8zM673.6 569.3l4.8 4.8l-4.8 4.8l-4.8 -4.8zM678.7 558l4.8 4.8l-4.8 4.8l-4.8 -4.8zM683.7 549.5l4.8 4.8l-4.8 4.8l-4.8 -4.8zM688.8 542.8l4.8 4.8l-4.8 4.8l-4.8 -4.8zM693.8 537.8l4.8 4.8l-4.8 4.8l-4.8 -4.8zM698.9 538.9l4.8 4.8l-4.8 4.8l-4.8 -4.8zM703.9 536.3l4.8 4.8l-4.8 4.8l-4.8 -4.8zM709 539.8l4.8 4.8l-4.8 4.8l-4.8 -4.8zM714 536.3l4.8 4.8l-4.8 4.8l-4.8 -4.8zM719.1 535.2l4.8 4.8l-4.8 4.8l-4.8 -4.8zM724.1 528.1l4.8 4.8l-4.8 4.8l-4.8 -4.8zM729.2 512.9l4.8 4.8l-4.8 4.8l-4.8 -4.8zM734.2 502.9l4.8 4.8l-4.8 4.8l-4.8 -4.8zM739.3 496.7l4.8 4.8l-4.8 4.8l-4.8 -4.8zM744.4 481.6l4.8 4.8l-4.8 4.8l-4.8 -4.8zM749.4 466.9l4.8 4.8l-4.8 4.8l-4.8 -4.8zM754.5 456.6l4.8 4.8l-4.8 4.8l-4.8 -4.8zM759.5 445.9l4.8 4.8l-4.8 4.8l-4.8 -4.8zM764.6 439.4l4.8 4.8l-4.8 4.8l-4.8 -4.8zM769.6 436.6l4.8 4.8l-4.8 4.8l-4.8 -4.8zM774.7 442.1l4.8 4.8l-4.8 4.8l-4.8 -4.8zM779.7 445.5l4.8 4.8l-4.8 4.8l-4.8 -4.8zM784.8 457.7l4.8 4.8l-4.8 4.8l-4.8 -4.8zM789.8 461.4l4.8 4.8l-4.8 4.8l-4.8 -4.8zM794.9 465.6l4.8 4.8l-4.8 4.8l-4.8 -4.8zM799.9 477.5l4.8 4.8l-4.8 4.8l-4.8 -4.8zM805 482l4.8 4.8l-4.8 4.8l-4.8 -4.8zM810 487.6l4.8 4.8l-4.8 4.8l-4.8 -4.8zM815.1 492.4l4.8 4.8l-4.8 4.8l-4.8 -4.8zM820.2 500.2l4.8 4.8l-4.8 4.8l-4.8 -4.8zM825.2 500l4.8 4.8l-4.8 4.8l-4.8 -4.8zM830.3 512.4l4.8 4.8l-4.8 4.8l-4.8 -4.8zM835.3 510.3l4.8 4.8l-4.8 4.8l-4.8 -4.8zM840.4 519.1l4.8 4.8l-4.8 4.8l-4.8 -4.8zM845.4 521.8l4.8 4.8l-4.8 4.8l-4.8 -4.8zM850.5 535.7l4.8 4.8l-4.8 4.8l-4.8 -4.8zM855.5 538.4l4.8 4.8l-4.8 4.8l-4.8 -4.8zM860.6 545.1l4.8 4.8l-4.8 4.8l-4.8 -4.8zM865.6 552.2l4.8 4.8l-4.8 4.8l-4.8 -4.8zM870.7 556.7l4.8 4.8l-4.8 4.8l-4.8 -4.8zM875.7 548l4.8 4.8l-4.8 4.8l-4.8 -4.8zM880.8 540.4l4.8 4.8l-4.8 4.8l-4.8 -4.8zM885.9 536.4l4.8 4.8l-4.8 4.8l-4.8 -4.8zM890.9 527.8l4.8 4.8l-4.8 4.8l-4.8 -4.8zM896 527.9l4.8 4.8l-4.8 4.8l-4.8 -4.8zM188.4 487.9l4.8 4.8l-4.8 4.8l-4.8 -4.8zM213.7 471.6l4.8 4.8l-4.8 4.8l-4.8 -4.8zM218.8 472.8l4.8 4.8l-4.8 4.8l-4.8 -4.8zM223.8 476.7l4.8 4.8l-4.8 4.8l-4.8 -4.8zM228.9 480.7l4.8 4.8l-4.8 4.8l-4.8 -4.8zM239 486.2l4.8 4.8l-4.8 4.8l-4.8 -4.8zM244 489.2l4.8 4.8l-4.8 4.8l-4.8 -4.8zM259.2 474.7l4.8 4.8l-4.8 4.8l-4.8 -4.8zM269.3 466.1l4.8 4.8l-4.8 4.8l-4.8 -4.8zM294.6 471.1l4.8 4.8l-4.8 4.8l-4.8 -4.8zM299.6 479.8l4.8 4.8l-4.8 4.8l-4.8 -4.8zM304.7 488.3l4.8 4.8l-4.8 4.8l-4.8 -4.8zM324.9 521.1l4.8 4.8l-4.8 4.8l-4.8 -4.8zM329.9 525.6l4.8 4.8l-4.8 4.8l-4.8 -4.8zM365.3 524.6l4.8 4.8l-4.8 4.8l-4.8 -4.8zM375.4 526.5l4.8 4.8l-4.8 4.8l-4.8 -4.8zM380.5 527.7l4.8 4.8l-4.8 4.8l-4.8 -4.8zM385.5 531.4l4.8 4.8l-4.8 4.8l-4.8 -4.8zM390.6 534.4l4.8 4.8l-4.8 4.8l-4.8 -4.8zM395.6 531.3l4.8 4.8l-4.8 4.8l-4.8 -4.8zM431 456.6l4.8 4.8l-4.8 4.8l-4.8 -4.8zM436.1 436l4.8 4.8l-4.8 4.8l-4.8 -4.8zM441.1 414.2l4.8 4.8l-4.8 4.8l-4.8 -4.8zM446.2 389.8l4.8 4.8l-4.8 4.8l-4.8 -4.8zM451.2 368.1l4.8 4.8l-4.8 4.8l-4.8 -4.8zM486.6 259.4l4.8 4.8l-4.8 4.8l-4.8 -4.8zM516.9 201.5l4.8 4.8l-4.8 4.8l-4.8 -4.8zM527 216.5l4.8 4.8l-4.8 4.8l-4.8 -4.8zM542.2 272.9l4.8 4.8l-4.8 4.8l-4.8 -4.8zM562.4 389l4.8 4.8l-4.8 4.8l-4.8 -4.8zM567.5 412.2l4.8 4.8l-4.8 4.8l-4.8 -4.8zM572.5 431.9l4.8 4.8l-4.8 4.8l-4.8 -4.8zM587.7 494.4l4.8 4.8l-4.8 4.8l-4.8 -4.8zM607.9 580.7l4.8 4.8l-4.8 4.8l-4.8 -4.8zM618 612.1l4.8 4.8l-4.8 4.8l-4.8 -4.8zM623.1 628.2l4.8 4.8l-4.8 4.8l-4.8 -4.8zM663.5 599.2l4.8 4.8l-4.8 4.8l-4.8 -4.8zM668.5 582.8l4.8 4.8l-4.8 4.8l-4.8 -4.8zM673.6 572.1l4.8 4.8l-4.8 4.8l-4.8 -4.8zM678.7 562.4l4.8 4.8l-4.8 4.8l-4.8 -4.8zM688.8 543.7l4.8 4.8l-4.8 4.8l-4.8 -4.8zM698.9 537l4.8 4.8l-4.8 4.8l-4.8 -4.8zM709 539.3l4.8 4.8l-4.8 4.8l-4.8 -4.8zM754.5 459.7l4.8 4.8l-4.8 4.8l-4.8 -4.8zM764.6 440.7l4.8 4.8l-4.8 4.8l-4.8 -4.8zM769.6 436.8l4.8 4.8l-4.8 4.8l-4.8 -4.8zM779.7 445.6l4.8 4.8l-4.8 4.8l-4.8 -4.8zM799.9 474l4.8 4.8l-4.8 4.8l-4.8 -4.8zM820.2 497l4.8 4.8l-4.8 4.8l-4.8 -4.8zM830.3 507.6l4.8 4.8l-4.8 4.8l-4.8 -4.8zM835.3 508.6l4.8 4.8l-4.8 4.8l-4.8 -4.8z"/>
</g>
<g fill="none" stroke="#000" stroke-width="0.65">
<polyline fill="none" stroke="#000" stroke-width="0.7" stroke-linejoin="round" points="188.4,463.2 193.5,455.6 198.5,449.6 203.6,447 208.7,444.5 213.7,448.1 218.8,452.6 223.8,457.6 228.9,462.1 233.9,463.3 239,464.4 244,460.7 249.1,456 254.1,449.1 259.2,442.4 264.2,437.3 269.3,432.4 274.4,429.3 279.4,426.6 284.5,428.1 289.5,431.8 294.6,441.1 299.6,453 304.7,466.6 309.7,477.1 314.8,482 319.8,486.5 324.9,492.3 329.9,497.5 335,501.7 340.1,503.4 345.1,504.8 350.2,505.7 355.2,502.8 360.3,501.7 365.3,503.7 370.4,505.7 375.4,509.6 380.5,513.6 385.5,517 390.6,519.8 395.6,517.8 400.7,510.7 405.7,500.5 410.8,486.6 415.9,478 420.9,457.9 426,440 431,425.4 436.1,399.9 441.1,371.1 446.2,350.9 451.2,325.1 456.3,303.3 461.3,287.6 466.4,278.5 471.4,264 476.5,248.9 481.6,232.8 486.6,217.8 491.7,203.8 496.7,190.1 501.8,183 506.8,183 511.9,183 516.9,183 522,183 527,183 532.1,196.4 537.1,216.9 542.2,243.4 547.3,277.3 552.3,305.4 557.4,328.3 562.4,350.9 567.5,374.7 572.5,401.6 577.6,416.2 582.6,439.4 587.7,464.5 592.7,486.3 597.8,505.8 602.8,524.3 607.9,541.8 613,563.9 618,586.7 623.1,602 628.1,618.6 633.2,625.3 638.2,627.4 643.3,622.9 648.3,611.6 653.4,601.5 658.4,592.2 663.5,580.2 668.5,564.2 673.6,550.7 678.7,541.3 683.7,531.7 688.8,522.9 693.8,519.1 698.9,517.3 703.9,523.1 709,521.3 714,523.4 719.1,516.7 724.1,507.8 729.2,496.5 734.2,483.1 739.3,469.8 744.4,462 749.4,447 754.5,435.7 759.5,425.7 764.6,417 769.6,408.5 774.7,404.1 779.7,410.5 784.8,423.3 789.8,429.9 794.9,433.7 799.9,441.8 805,445.8 810,446.7 815.1,451.1 820.2,456.9 825.2,466.9 830.3,472.1 835.3,475.6 840.4,485.7 845.4,487.2 850.5,498.7 855.5,504 860.6,512.6 865.6,521 870.7,531.2 875.7,528.7 880.8,526.2 885.9,523.2 890.9,510.8 896,506.7"/>
<polyline fill="none" stroke="#000" stroke-width="0.5599999999999999" stroke-linejoin="round" points="188.4,463.7 193.5,459.2 198.5,451.9 203.6,449.6 208.7,446.5 213.7,447 218.8,451.8 223.8,458.1 228.9,462.4 233.9,461.9 239,462.5 244,460.5 249.1,455.8 254.1,449 259.2,442.7 264.2,438.9 269.3,435.1 274.4,431.1 279.4,426.9 284.5,428 289.5,430 294.6,437.9 299.6,451.1 304.7,464.4 309.7,474.9 314.8,481.6 319.8,485.6 324.9,491.3 329.9,498.2 335,501.7 340.1,502.5 345.1,503.8 350.2,505.5 355.2,502.7 360.3,499.9 365.3,502.6 370.4,504.9 375.4,507.6 380.5,512.1 385.5,515.3 390.6,517.8 395.6,517.4 400.7,512.8 405.7,502.9 410.8,489.8 415.9,481.3 420.9,465.7 426,445.4 431,428.4 436.1,404.7 441.1,376.6 446.2,355.9 451.2,331 456.3,307.1 461.3,291 466.4,282.6 471.4,268.8 476.5,252.1 481.6,236.2 486.6,222.4 491.7,208.4 496.7,193.7 501.8,183.4 506.8,181.5 511.9,182.8 516.9,182.5 522,182.3 527,183.8 532.1,193.7 537.1,211.7 542.2,236.3 547.3,268.4 552.3,298 557.4,322.8 562.4,345.3 567.5,368.1 572.5,396.2 577.6,413.2 582.6,432.9 587.7,456.8 592.7,480 597.8,499.6 602.8,517.7 607.9,535.2 613,556.1 618,580.3 623.1,596.8 628.1,614.8 633.2,624.1 638.2,627.2 643.3,623.4 648.3,613.4 653.4,602.4 658.4,592.9 663.5,581.8 668.5,566.7 673.6,554.2 678.7,543.7 683.7,533.4 688.8,525.2 693.8,520.6 698.9,516.9 703.9,522.6 709,521.5 714,524 719.1,519.1 724.1,510.3 729.2,499.6 734.2,487.7 739.3,474.6 744.4,464.7 749.4,452.1 754.5,439.8 759.5,428.7 764.6,418.9 769.6,409.6 774.7,403 779.7,406 784.8,419.7 789.8,428.8 794.9,430.9 799.9,438.4 805,444.5 810,446.7 815.1,451.6 820.2,455.1 825.2,464.4 830.3,470.2 835.3,472.1 840.4,483.1 845.4,483.5 850.5,496.3 855.5,501.9 860.6,512.1 865.6,520.3 870.7,529.8 875.7,529.4 880.8,527.5 885.9,524.2 890.9,512.3 896,506"/>
<path d="M188.4 458.3l4.6 9.2h-9.2zM193.5 450.7l4.6 9.2h-9.2zM198.5 444.7l4.6 9.2h-9.2zM203.6 442.1l4.6 9.2h-9.2zM208.7 439.6l4.6 9.2h-9.2zM213.7 443.2l4.6 9.2h-9.2zM218.8 447.7l4.6 9.2h-9.2zM223.8 452.7l4.6 9.2h-9.2zM228.9 457.2l4.6 9.2h-9.2zM233.9 458.4l4.6 9.2h-9.2zM239 459.5l4.6 9.2h-9.2zM244 455.8l4.6 9.2h-9.2zM249.1 451.1l4.6 9.2h-9.2zM254.1 444.2l4.6 9.2h-9.2zM259.2 437.5l4.6 9.2h-9.2zM264.2 432.4l4.6 9.2h-9.2zM269.3 427.5l4.6 9.2h-9.2zM274.4 424.4l4.6 9.2h-9.2zM279.4 421.7l4.6 9.2h-9.2zM284.5 423.2l4.6 9.2h-9.2zM289.5 426.9l4.6 9.2h-9.2zM294.6 436.2l4.6 9.2h-9.2zM299.6 448.1l4.6 9.2h-9.2zM304.7 461.7l4.6 9.2h-9.2zM309.7 472.2l4.6 9.2h-9.2zM314.8 477.1l4.6 9.2h-9.2zM319.8 481.6l4.6 9.2h-9.2zM324.9 487.4l4.6 9.2h-9.2zM329.9 492.6l4.6 9.2h-9.2zM335 496.8l4.6 9.2h-9.2zM340.1 498.5l4.6 9.2h-9.2zM345.1 499.9l4.6 9.2h-9.2zM350.2 500.8l4.6 9.2h-9.2zM355.2 497.9l4.6 9.2h-9.2zM360.3 496.8l4.6 9.2h-9.2zM365.3 498.8l4.6 9.2h-9.2zM370.4 500.8l4.6 9.2h-9.2zM375.4 504.7l4.6 9.2h-9.2zM380.5 508.7l4.6 9.2h-9.2zM385.5 512.1l4.6 9.2h-9.2zM390.6 514.9l4.6 9.2h-9.2zM395.6 512.9l4.6 9.2h-9.2zM400.7 505.8l4.6 9.2h-9.2zM405.7 495.6l4.6 9.2h-9.2zM410.8 481.7l4.6 9.2h-9.2zM415.9 473.1l4.6 9.2h-9.2zM420.9 453l4.6 9.2h-9.2zM426 435.1l4.6 9.2h-9.2zM431 420.5l4.6 9.2h-9.2zM436.1 395l4.6 9.2h-9.2zM441.1 366.2l4.6 9.2h-9.2zM446.2 346l4.6 9.2h-9.2zM451.2 320.2l4.6 9.2h-9.2zM456.3 298.4l4.6 9.2h-9.2zM461.3 282.7l4.6 9.2h-9.2zM466.4 273.6l4.6 9.2h-9.2zM471.4 259.1l4.6 9.2h-9.2zM476.5 244l4.6 9.2h-9.2zM481.6 227.9l4.6 9.2h-9.2zM486.6 212.9l4.6 9.2h-9.2zM491.7 198.9l4.6 9.2h-9.2zM496.7 185.2l4.6 9.2h-9.2zM501.8 178.1l4.6 9.2h-9.2zM506.8 178.1l4.6 9.2h-9.2zM511.9 178.1l4.6 9.2h-9.2zM516.9 178.1l4.6 9.2h-9.2zM522 178.1l4.6 9.2h-9.2zM527 178.1l4.6 9.2h-9.2zM532.1 191.5l4.6 9.2h-9.2zM537.1 212l4.6 9.2h-9.2zM542.2 238.5l4.6 9.2h-9.2zM547.3 272.4l4.6 9.2h-9.2zM552.3 300.5l4.6 9.2h-9.2zM557.4 323.4l4.6 9.2h-9.2zM562.4 346l4.6 9.2h-9.2zM567.5 369.8l4.6 9.2h-9.2zM572.5 396.7l4.6 9.2h-9.2zM577.6 411.3l4.6 9.2h-9.2zM582.6 434.5l4.6 9.2h-9.2zM587.7 459.6l4.6 9.2h-9.2zM592.7 481.4l4.6 9.2h-9.2zM597.8 500.9l4.6 9.2h-9.2zM602.8 519.4l4.6 9.2h-9.2zM607.9 536.9l4.6 9.2h-9.2zM613 559l4.6 9.2h-9.2zM618 581.8l4.6 9.2h-9.2zM623.1 597.1l4.6 9.2h-9.2zM628.1 613.7l4.6 9.2h-9.2zM633.2 620.4l4.6 9.2h-9.2zM638.2 622.5l4.6 9.2h-9.2zM643.3 618l4.6 9.2h-9.2zM648.3 606.7l4.6 9.2h-9.2zM653.4 596.6l4.6 9.2h-9.2zM658.4 587.3l4.6 9.2h-9.2zM663.5 575.3l4.6 9.2h-9.2zM668.5 559.3l4.6 9.2h-9.2zM673.6 545.8l4.6 9.2h-9.2zM678.7 536.4l4.6 9.2h-9.2zM683.7 526.8l4.6 9.2h-9.2zM688.8 518l4.6 9.2h-9.2zM693.8 514.2l4.6 9.2h-9.2zM698.9 512.4l4.6 9.2h-9.2zM703.9 518.2l4.6 9.2h-9.2zM709 516.4l4.6 9.2h-9.2zM714 518.5l4.6 9.2h-9.2zM719.1 511.8l4.6 9.2h-9.2zM724.1 502.9l4.6 9.2h-9.2zM729.2 491.6l4.6 9.2h-9.2zM734.2 478.2l4.6 9.2h-9.2zM739.3 464.9l4.6 9.2h-9.2zM744.4 457.1l4.6 9.2h-9.2zM749.4 442.1l4.6 9.2h-9.2zM754.5 430.8l4.6 9.2h-9.2zM759.5 420.8l4.6 9.2h-9.2zM764.6 412.1l4.6 9.2h-9.2zM769.6 403.6l4.6 9.2h-9.2zM774.7 399.2l4.6 9.2h-9.2zM779.7 405.6l4.6 9.2h-9.2zM784.8 418.4l4.6 9.2h-9.2zM789.8 425l4.6 9.2h-9.2zM794.9 428.8l4.6 9.2h-9.2zM799.9 436.9l4.6 9.2h-9.2zM805 440.9l4.6 9.2h-9.2zM810 441.8l4.6 9.2h-9.2zM815.1 446.2l4.6 9.2h-9.2zM820.2 452l4.6 9.2h-9.2zM825.2 462l4.6 9.2h-9.2zM830.3 467.2l4.6 9.2h-9.2zM835.3 470.7l4.6 9.2h-9.2zM840.4 480.8l4.6 9.2h-9.2zM845.4 482.3l4.6 9.2h-9.2zM850.5 493.8l4.6 9.2h-9.2zM855.5 499.1l4.6 9.2h-9.2zM860.6 507.7l4.6 9.2h-9.2zM865.6 516.1l4.6 9.2h-9.2zM870.7 526.3l4.6 9.2h-9.2zM875.7 523.8l4.6 9.2h-9.2zM880.8 521.3l4.6 9.2h-9.2zM885.9 518.3l4.6 9.2h-9.2zM890.9 505.9l4.6 9.2h-9.2zM896 501.8l4.6 9.2h-9.2zM188.4 458.8l4.6 9.2h-9.2zM203.6 444.7l4.6 9.2h-9.2zM213.7 442.1l4.6 9.2h-9.2zM218.8 446.9l4.6 9.2h-9.2zM223.8 453.2l4.6 9.2h-9.2zM228.9 457.5l4.6 9.2h-9.2zM233.9 457l4.6 9.2h-9.2zM239 457.6l4.6 9.2h-9.2zM244 455.6l4.6 9.2h-9.2zM249.1 450.9l4.6 9.2h-9.2zM284.5 423.1l4.6 9.2h-9.2zM289.5 425.1l4.6 9.2h-9.2zM299.6 446.2l4.6 9.2h-9.2zM314.8 476.7l4.6 9.2h-9.2zM345.1 498.9l4.6 9.2h-9.2zM395.6 512.5l4.6 9.2h-9.2zM400.7 507.9l4.6 9.2h-9.2zM405.7 498l4.6 9.2h-9.2zM410.8 484.9l4.6 9.2h-9.2zM415.9 476.4l4.6 9.2h-9.2zM451.2 326.1l4.6 9.2h-9.2zM481.6 231.3l4.6 9.2h-9.2zM491.7 203.5l4.6 9.2h-9.2zM496.7 188.8l4.6 9.2h-9.2zM501.8 178.5l4.6 9.2h-9.2zM511.9 177.9l4.6 9.2h-9.2zM532.1 188.8l4.6 9.2h-9.2zM562.4 340.4l4.6 9.2h-9.2zM567.5 363.2l4.6 9.2h-9.2zM572.5 391.3l4.6 9.2h-9.2zM582.6 428l4.6 9.2h-9.2zM592.7 475.1l4.6 9.2h-9.2zM597.8 494.7l4.6 9.2h-9.2zM602.8 512.8l4.6 9.2h-9.2zM623.1 591.9l4.6 9.2h-9.2zM643.3 618.5l4.6 9.2h-9.2zM653.4 597.5l4.6 9.2h-9.2zM668.5 561.8l4.6 9.2h-9.2zM693.8 515.7l4.6 9.2h-9.2zM698.9 512l4.6 9.2h-9.2zM709 516.6l4.6 9.2h-9.2zM719.1 514.2l4.6 9.2h-9.2zM734.2 482.8l4.6 9.2h-9.2zM759.5 423.8l4.6 9.2h-9.2zM774.7 398.1l4.6 9.2h-9.2zM779.7 401.1l4.6 9.2h-9.2zM794.9 426l4.6 9.2h-9.2zM799.9 433.5l4.6 9.2h-9.2zM805 439.6l4.6 9.2h-9.2zM810 441.8l4.6 9.2h-9.2zM820.2 450.2l4.6 9.2h-9.2zM835.3 467.2l4.6 9.2h-9.2zM855.5 497l4.6 9.2h-9.2zM860.6 507.2l4.6 9.2h-9.2zM865.6 515.4l4.6 9.2h-9.2zM880.8 522.6l4.6 9.2h-9.2zM890.9 507.4l4.6 9.2h-9.2zM896 501.1l4.6 9.2h-9.2z"/>
</g>
</svg>
</body></html>
